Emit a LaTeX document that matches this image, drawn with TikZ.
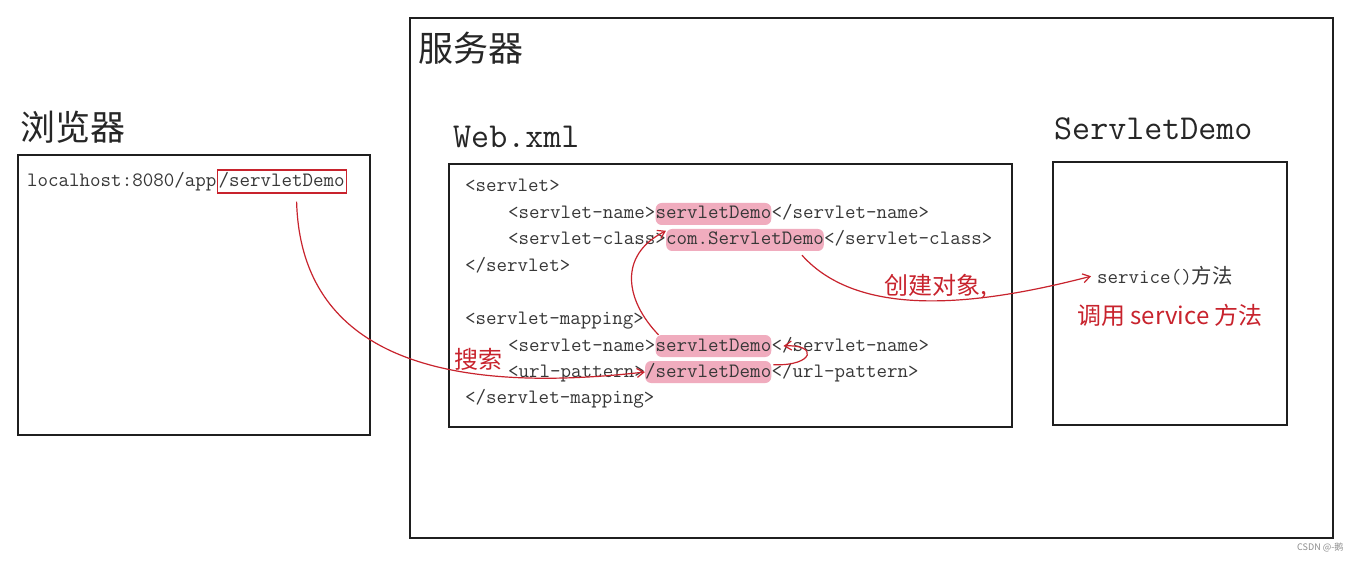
\documentclass[tikz,border=0pt]{standalone}
\usepackage{fontspec}
\newfontfamily\cjk{Noto Sans CJK SC}
\usetikzlibrary{arrows.meta}
\definecolor{codegray}{RGB}{55,55,55}
\definecolor{hlpink}{RGB}{240,172,190}
\definecolor{annred}{RGB}{200,35,45}
\newcommand{\codefont}{\fontsize{20.4}{24}\selectfont\ttfamily}
\tikzset{
  code/.style={font=\codefont, text=codegray, inner xsep=0pt, inner ysep=0pt, anchor=base west},
  hl/.style={code, fill=hlpink, rounded corners=6pt, text height=14pt, text depth=4pt, inner ysep=2pt},
  frame/.style={draw=black!88, line width=1.8pt},
  title/.style={font=\cjk\fontsize{35}{40}\selectfont, text=black!85, anchor=west, inner sep=0pt},
  ttitle/.style={font=\fontsize{35}{40}\selectfont\ttfamily, text=black!85, anchor=west, inner sep=0pt},
  ann/.style={font=\cjk\fontsize{24}{28}\selectfont, text=annred, inner sep=0pt},
  redarrow/.style={draw=annred, line width=1.2pt, -{Straight Barb[length=7pt,width=9pt]}},
}
\begin{document}
\begin{tikzpicture}[x=1pt,y=-1pt]
\useasboundingbox (0,0) rectangle (1368,561);
\fill[white] (0,0) rectangle (1368,561);

% frames
\draw[frame] (18,155) rectangle (370,435);
\draw[frame] (410,18) rectangle (1333,538);
\draw[frame] (449,164) rectangle (1012,427);
\draw[frame] (1053,162) rectangle (1287,425);

% titles
\node[title] (tbrowser) at (20,127) {浏览器};
\node[title] (tserver) at (418,48) {服务器};
\node[ttitle] (tweb) at (453,137) {Web.xml};
\node[ttitle] (tdemo) at (1054,129) {ServletDemo};

% browser url
\node[code] (url1) at (27,187) {localhost:8080/app};
\node[code, draw=annred, line width=1.1pt, inner xsep=1.5pt, text height=15pt, text depth=4pt, inner ysep=2pt] (rb) at (url1.base east) {/servletDemo};

% web.xml content
\node[code] (l1) at (465,192) {<servlet>};
\node[code] (l2a) at (508,219) {<servlet-name>};
\node[hl] (l2b) at (l2a.base east) {servletDemo};
\node[code] (l2c) at (l2b.base east) {</servlet-name>};
\node[code] (l3a) at (508,245) {<servlet-class>};
\node[hl] (l3b) at (l3a.base east) {com.ServletDemo};
\node[code] (l3c) at (l3b.base east) {</servlet-class>};
\node[code] (l4) at (465,272) {</servlet>};
\node[code] (l5) at (465,324) {<servlet-mapping>};
\node[code] (l6a) at (508,351) {<servlet-name>};
\node[hl] (l6b) at (l6a.base east) {servletDemo};
\node[code] (l6c) at (l6b.base east) {</servlet-name>};
\node[code] (l7a) at (508,377) {<url-pattern>};
\node[hl] (l7b) at (l7a.base east) {/servletDemo};
\node[code] (l7c) at (l7b.base east) {</url-pattern>};
\node[code] (l8) at (465,403) {</servlet-mapping>};

% servlet demo content
\node[code] (svc) at (1097,284) {service()\cjk 方法};

% annotations
\node[ann] (a1) at (936,287) {创建对象,};
\node[ann] (a2) at (1170,315) {调用 service 方法};
\node[ann] (a3) at (478,359) {搜索};

% arrows
\coordinate (s1) at ([xshift=15pt,yshift=-8pt]rb.south);
\draw[redarrow] (s1) .. controls (300,330) and (400,400) .. (l7b.west);
\coordinate (s2) at ([xshift=2pt,yshift=-4pt]l7b.north east);
\coordinate (e2) at ([xshift=12pt,yshift=0pt]l6b.east);
\draw[redarrow] (s2) .. controls (815,366) and (818,344) .. (e2);
\coordinate (s3) at ([xshift=3pt]l6b.north west);
\coordinate (e3) at ([yshift=-2pt]l3b.north west);
\draw[redarrow] (s3) .. controls (625,300) and (618,255) .. (e3);
\coordinate (s4) at ([xshift=-22pt,yshift=-4pt]l3b.south east);
\draw[redarrow] (s4) .. controls (860,320) and (980,305) .. ([xshift=-6pt]svc.west);

% watermark
\node[font=\cjk\fontsize{9}{11}\selectfont, text=black!45, anchor=west, inner sep=0pt] (wm) at (1297,547) {CSDN @-鹅};
\end{tikzpicture}
\end{document}
